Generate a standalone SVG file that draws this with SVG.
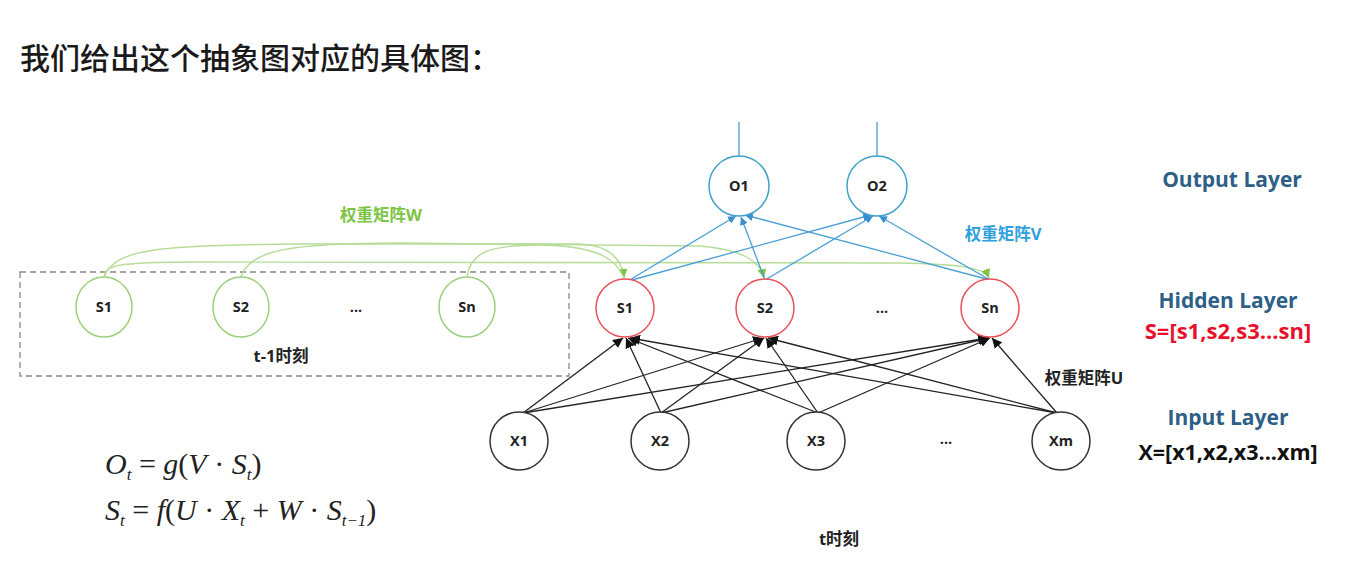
<svg xmlns="http://www.w3.org/2000/svg" width="1354" height="562" viewBox="0 0 1354 562">
<defs>
<style>
.node text{font-family:"Open Sans","DejaVu Sans",sans-serif;font-weight:bold;font-size:14.5px;text-anchor:middle;fill:#222}
.g circle{fill:#fff;stroke:#9ccf7c;stroke-width:1.5}
.r circle{fill:#fff;stroke:#e8505a;stroke-width:1.5}
.o circle{fill:#fff;stroke:#3fa0c8;stroke-width:1.5}
.x circle{fill:#fff;stroke:#333;stroke-width:1.5}
.lbl{font-family:"Open Sans","Noto Sans CJK SC",sans-serif;font-weight:bold}
.cjk{font-size:16.5px;text-anchor:middle}
.layer{font-size:21px;fill:#2d5f87;text-anchor:middle}
.blue line{stroke:#4a9fd6;stroke-width:1.3}
.black line{stroke:#222;stroke-width:1.3}
.green path{stroke:#b5dc98;stroke-width:1.4;fill:none}
.math{font-family:"Liberation Serif","Times New Roman",serif;font-style:italic;font-size:30px;fill:#222}
</style>
<marker id="ab" viewBox="0 0 10 10" refX="10" refY="5" markerWidth="8" markerHeight="8" orient="auto" markerUnits="userSpaceOnUse"><path d="M0,0 L10,5 L0,10 z" fill="#3a8fcc"/></marker>
<marker id="ak" viewBox="0 0 10 10" refX="10" refY="5" markerWidth="10" markerHeight="10" orient="auto" markerUnits="userSpaceOnUse"><path d="M0,0 L10,5 L0,10 z" fill="#111"/></marker>
<marker id="ag" viewBox="0 0 10 10" refX="10" refY="5" markerWidth="9" markerHeight="9" orient="auto" markerUnits="userSpaceOnUse"><path d="M0,0 L10,5 L0,10 z" fill="#7cc444"/></marker>
</defs>
<rect width="1354" height="562" fill="#fff"/>
<text x="20" y="69" font-family="Noto Sans CJK SC,sans-serif" font-size="30" font-weight="500" fill="#1a1a1a">我们给出这个抽象图对应的具体图：</text>

<rect x="20" y="272" width="549" height="104" fill="none" stroke="#888" stroke-width="1.3" stroke-dasharray="6,4"/>
<text class="lbl cjk" x="281" y="362" fill="#222">t-1时刻</text>

<g id="connectors">
<g class="green">
<path d="M104,277 C115,250 150,245 300,244 L580,244 C610,245 622,260 624,278" marker-end="url(#ag)"/>
<path d="M241,277 C250,250 290,243 400,243 L700,246 C745,250 760,262 764,278" marker-end="url(#ag)"/>
<path d="M467,277 C470,252 490,245 540,245 C590,246 615,255 624,278"/>
<path d="M104,277 C106,266 110,262 200,262 L900,263 C960,264 985,268 989,278" marker-end="url(#ag)"/>
</g>
<g class="blue">
<line x1="628" y1="281" x2="736" y2="216" marker-end="url(#ab)"/>
<line x1="628" y1="281" x2="871" y2="215" marker-end="url(#ab)"/>
<line x1="765" y1="280" x2="741" y2="217" marker-end="url(#ab)"/>
<line x1="765" y1="280" x2="873" y2="216" marker-end="url(#ab)"/>
<line x1="990" y1="280" x2="745" y2="215" marker-end="url(#ab)"/>
<line x1="990" y1="280" x2="879" y2="216" marker-end="url(#ab)"/>
<line x1="739" y1="122" x2="739" y2="156" stroke="#5a8fb5"/>
<line x1="877" y1="122" x2="877" y2="156" stroke="#5a8fb5"/>
</g>
<g class="black">
<line x1="523" y1="413" x2="623" y2="338" marker-end="url(#ak)"/>
<line x1="523" y1="413" x2="763" y2="338" marker-end="url(#ak)"/>
<line x1="523" y1="413" x2="988" y2="338" marker-end="url(#ak)"/>
<line x1="661" y1="413" x2="626" y2="338" marker-end="url(#ak)"/>
<line x1="661" y1="413" x2="764" y2="338" marker-end="url(#ak)"/>
<line x1="661" y1="413" x2="989" y2="338" marker-end="url(#ak)"/>
<line x1="818" y1="413" x2="628" y2="338" marker-end="url(#ak)"/>
<line x1="818" y1="413" x2="766" y2="338" marker-end="url(#ak)"/>
<line x1="818" y1="413" x2="990" y2="338" marker-end="url(#ak)"/>
<line x1="1057" y1="413" x2="630" y2="338" marker-end="url(#ak)"/>
<line x1="1057" y1="413" x2="768" y2="338" marker-end="url(#ak)"/>
<line x1="1057" y1="413" x2="992" y2="338" marker-end="url(#ak)"/>
</g>
</g>

<g id="gS1" class="node g"><ellipse cx="104" cy="307" rx="28" ry="30" fill="#fff" stroke="#9ccf7c" stroke-width="1.5"/><text x="104" y="312">S1</text></g>
<g id="gS2" class="node g"><ellipse cx="241" cy="307" rx="28" ry="30" fill="#fff" stroke="#9ccf7c" stroke-width="1.5"/><text x="241" y="312">S2</text></g>
<g id="gDots" class="node"><text x="356" y="312">...</text></g>
<g id="gSn" class="node g"><ellipse cx="467" cy="307" rx="28" ry="30" fill="#fff" stroke="#9ccf7c" stroke-width="1.5"/><text x="467" y="312">Sn</text></g>

<g id="rS1" class="node r"><circle cx="625" cy="308" r="29"/><text x="625" y="313">S1</text></g>
<g id="rS2" class="node r"><circle cx="765" cy="308" r="29"/><text x="765" y="313">S2</text></g>
<g id="rDots" class="node"><text x="882" y="313">...</text></g>
<g id="rSn" class="node r"><circle cx="990" cy="308" r="29"/><text x="990" y="313">Sn</text></g>

<g id="O1" class="node o"><circle cx="739" cy="186" r="30"/><text x="739" y="191">O1</text></g>
<g id="O2" class="node o"><circle cx="877" cy="186" r="30"/><text x="877" y="191">O2</text></g>

<g id="X1" class="node x"><circle cx="519" cy="441" r="29"/><text x="519" y="446">X1</text></g>
<g id="X2" class="node x"><circle cx="660" cy="441" r="29"/><text x="660" y="446">X2</text></g>
<g id="X3" class="node x"><circle cx="816" cy="441" r="29"/><text x="816" y="446">X3</text></g>
<g id="xDots" class="node"><text x="946" y="444">...</text></g>
<g id="Xm" class="node x"><circle cx="1061" cy="441" r="29"/><text x="1061" y="446">Xm</text></g>

<text class="lbl cjk" x="381" y="221" fill="#7cc444">权重矩阵W</text>
<text class="lbl cjk" x="1003" y="240" fill="#2fa0dd">权重矩阵V</text>
<text class="lbl cjk" x="1084" y="384" fill="#222">权重矩阵U</text>
<text class="lbl cjk" x="839" y="545" fill="#222">t时刻</text>

<text class="lbl layer" x="1232" y="187">Output Layer</text>
<text class="lbl layer" x="1228" y="308">Hidden Layer</text>
<text class="lbl" x="1228" y="339" font-size="22" text-anchor="middle" fill="#e8102a">S=[s1,s2,s3...sn]</text>
<text class="lbl layer" x="1228" y="425">Input Layer</text>
<text class="lbl" x="1228" y="460" font-size="21.5" text-anchor="middle" fill="#111">X=[x1,x2,x3...xm]</text>

<text class="math" x="105" y="474">O<tspan font-size="17" dy="6">t</tspan><tspan dy="-6" font-style="normal"> = </tspan>g<tspan font-style="normal">(</tspan>V<tspan font-style="normal"> · </tspan>S<tspan font-size="17" dy="6">t</tspan><tspan dy="-6" font-style="normal">)</tspan></text>
<text class="math" x="105" y="520">S<tspan font-size="17" dy="6">t</tspan><tspan dy="-6" font-style="normal"> = </tspan>f<tspan font-style="normal">(</tspan>U<tspan font-style="normal"> · </tspan>X<tspan font-size="17" dy="6">t</tspan><tspan dy="-6" font-style="normal"> + </tspan>W<tspan font-style="normal"> · </tspan>S<tspan font-size="17" dy="6">t−1</tspan><tspan dy="-6" font-style="normal">)</tspan></text>
</svg>
